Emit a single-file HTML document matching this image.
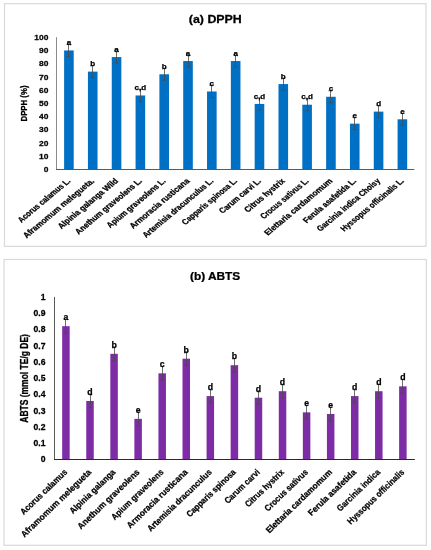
<!DOCTYPE html>
<html><head><meta charset="utf-8"><title>DPPH and ABTS</title>
<style>
html,body{margin:0;padding:0;background:#fff;}
body{width:431px;height:550px;overflow:hidden;}
svg{display:block;}
.b{font-family:"Liberation Sans",sans-serif;font-weight:bold;fill:#000;stroke:#000;stroke-width:0.25px;}
</style></head><body>
<svg width="431" height="550" viewBox="0 0 431 550">
<rect width="431" height="550" fill="#fff"/>
<g>
<rect x="4.5" y="3.7" width="421.5" height="242.60000000000002" fill="#fff" stroke="#d9d9d9" stroke-width="1.2"/>
<text transform="translate(215.3,22.7) scale(1.17,1)" text-anchor="middle" font-size="10.6" class="b">(a) DPPH</text>
<rect x="64.11" y="50.44" width="9.6" height="119.16" fill="#0070c4"/>
<path d="M68.50 44.44V56.44M66.40 44.44H70.60M66.40 56.44H70.60" stroke="#4a4a4a" stroke-width="0.8" fill="none"/>
<text transform="translate(68.91,45.04) scale(1.0,1)" text-anchor="middle" font-size="8.0" class="b">a</text>
<rect x="87.93" y="71.62" width="9.6" height="97.98" fill="#0070c4"/>
<path d="M92.50 65.62V77.62M90.40 65.62H94.60M90.40 77.62H94.60" stroke="#4a4a4a" stroke-width="0.8" fill="none"/>
<text transform="translate(92.73,66.22) scale(1.0,1)" text-anchor="middle" font-size="8.0" class="b">b</text>
<rect x="111.75" y="57.06" width="9.6" height="112.54" fill="#0070c4"/>
<path d="M116.50 51.06V63.06M114.40 51.06H118.60M114.40 63.06H118.60" stroke="#4a4a4a" stroke-width="0.8" fill="none"/>
<text transform="translate(116.55,51.66) scale(1.0,1)" text-anchor="middle" font-size="8.0" class="b">a</text>
<rect x="135.57" y="95.46" width="9.6" height="74.14" fill="#0070c4"/>
<path d="M140.50 89.46V101.46M138.40 89.46H142.60M138.40 101.46H142.60" stroke="#4a4a4a" stroke-width="0.8" fill="none"/>
<text transform="translate(140.37,90.06) scale(1.0,1)" text-anchor="middle" font-size="8.0" class="b">c,d</text>
<rect x="159.39" y="74.27" width="9.6" height="95.33" fill="#0070c4"/>
<path d="M164.50 68.27V80.27M162.40 68.27H166.60M162.40 80.27H166.60" stroke="#4a4a4a" stroke-width="0.8" fill="none"/>
<text transform="translate(164.19,68.87) scale(1.0,1)" text-anchor="middle" font-size="8.0" class="b">b</text>
<rect x="183.21" y="61.03" width="9.6" height="108.57" fill="#0070c4"/>
<path d="M188.50 55.03V67.03M186.40 55.03H190.60M186.40 67.03H190.60" stroke="#4a4a4a" stroke-width="0.8" fill="none"/>
<text transform="translate(188.01,55.63) scale(1.0,1)" text-anchor="middle" font-size="8.0" class="b">a</text>
<rect x="207.03" y="91.48" width="9.6" height="78.12" fill="#0070c4"/>
<path d="M211.50 85.48V97.48M209.40 85.48H213.60M209.40 97.48H213.60" stroke="#4a4a4a" stroke-width="0.8" fill="none"/>
<text transform="translate(211.83,86.08) scale(1.0,1)" text-anchor="middle" font-size="8.0" class="b">c</text>
<rect x="230.85" y="61.03" width="9.6" height="108.57" fill="#0070c4"/>
<path d="M235.50 55.03V67.03M233.40 55.03H237.60M233.40 67.03H237.60" stroke="#4a4a4a" stroke-width="0.8" fill="none"/>
<text transform="translate(235.65,55.63) scale(1.0,1)" text-anchor="middle" font-size="8.0" class="b">a</text>
<rect x="254.67" y="103.93" width="9.6" height="65.67" fill="#0070c4"/>
<path d="M259.50 97.93V109.93M257.40 97.93H261.60M257.40 109.93H261.60" stroke="#4a4a4a" stroke-width="0.8" fill="none"/>
<text transform="translate(259.47,98.53) scale(1.0,1)" text-anchor="middle" font-size="8.0" class="b">c,d</text>
<rect x="278.49" y="84.07" width="9.6" height="85.53" fill="#0070c4"/>
<path d="M283.50 78.07V90.07M281.40 78.07H285.60M281.40 90.07H285.60" stroke="#4a4a4a" stroke-width="0.8" fill="none"/>
<text transform="translate(283.29,78.67) scale(1.0,1)" text-anchor="middle" font-size="8.0" class="b">b</text>
<rect x="302.31" y="104.72" width="9.6" height="64.88" fill="#0070c4"/>
<path d="M307.50 98.72V110.72M305.40 98.72H309.60M305.40 110.72H309.60" stroke="#4a4a4a" stroke-width="0.8" fill="none"/>
<text transform="translate(307.11,99.32) scale(1.0,1)" text-anchor="middle" font-size="8.0" class="b">c,d</text>
<rect x="326.13" y="96.78" width="9.6" height="72.82" fill="#0070c4"/>
<path d="M330.50 90.78V102.78M328.40 90.78H332.60M328.40 102.78H332.60" stroke="#4a4a4a" stroke-width="0.8" fill="none"/>
<text transform="translate(330.93,91.38) scale(1.0,1)" text-anchor="middle" font-size="8.0" class="b">c</text>
<rect x="349.95" y="123.66" width="9.6" height="45.94" fill="#0070c4"/>
<path d="M354.50 117.66V129.66M352.40 117.66H356.60M352.40 129.66H356.60" stroke="#4a4a4a" stroke-width="0.8" fill="none"/>
<text transform="translate(354.75,118.26) scale(1.0,1)" text-anchor="middle" font-size="8.0" class="b">e</text>
<rect x="373.77" y="111.61" width="9.6" height="57.99" fill="#0070c4"/>
<path d="M378.50 105.61V117.61M376.40 105.61H380.60M376.40 117.61H380.60" stroke="#4a4a4a" stroke-width="0.8" fill="none"/>
<text transform="translate(378.57,106.21) scale(1.0,1)" text-anchor="middle" font-size="8.0" class="b">d</text>
<rect x="397.59" y="119.29" width="9.6" height="50.31" fill="#0070c4"/>
<path d="M402.50 113.29V125.29M400.40 113.29H404.60M400.40 125.29H404.60" stroke="#4a4a4a" stroke-width="0.8" fill="none"/>
<text transform="translate(402.39,113.89) scale(1.0,1)" text-anchor="middle" font-size="8.0" class="b">e</text>
<path d="M56.5 37.2V169.6" stroke="#8a8a8a" stroke-width="1" fill="none"/>
<path d="M56.0 169.5H414.3" stroke="#5a5a5a" stroke-width="1" fill="none"/>
<text transform="translate(48.4,172.20) scale(1.07,1)" text-anchor="end" font-size="7.9" class="b">0</text>
<text transform="translate(48.4,158.96) scale(1.07,1)" text-anchor="end" font-size="7.9" class="b">10</text>
<text transform="translate(48.4,145.72) scale(1.07,1)" text-anchor="end" font-size="7.9" class="b">20</text>
<text transform="translate(48.4,132.48) scale(1.07,1)" text-anchor="end" font-size="7.9" class="b">30</text>
<text transform="translate(48.4,119.24) scale(1.07,1)" text-anchor="end" font-size="7.9" class="b">40</text>
<text transform="translate(48.4,106.00) scale(1.07,1)" text-anchor="end" font-size="7.9" class="b">50</text>
<text transform="translate(48.4,92.76) scale(1.07,1)" text-anchor="end" font-size="7.9" class="b">60</text>
<text transform="translate(48.4,79.52) scale(1.07,1)" text-anchor="end" font-size="7.9" class="b">70</text>
<text transform="translate(48.4,66.28) scale(1.07,1)" text-anchor="end" font-size="7.9" class="b">80</text>
<text transform="translate(48.4,53.04) scale(1.07,1)" text-anchor="end" font-size="7.9" class="b">90</text>
<text transform="translate(48.4,39.80) scale(1.07,1)" text-anchor="end" font-size="7.9" class="b">100</text>
<text transform="translate(27.3,103.5) scale(1.2,1) rotate(-90) scale(1.0,1)" text-anchor="middle" font-size="7.8" class="b">DPPH (%)</text>
<text transform="translate(71.11,181.50) scale(1.2,1) rotate(-45) scale(0.8450,1)" text-anchor="end" font-size="7.8" class="b">Acorus calamus L.</text>
<text transform="translate(94.93,181.50) scale(1.2,1) rotate(-45) scale(0.9060,1)" text-anchor="end" font-size="7.8" class="b">Aframomum melegueta.</text>
<text transform="translate(118.75,181.50) scale(1.2,1) rotate(-45) scale(0.8883,1)" text-anchor="end" font-size="7.8" class="b">Alpinia galanga Wild</text>
<text transform="translate(142.57,181.50) scale(1.2,1) rotate(-45) scale(0.8737,1)" text-anchor="end" font-size="7.8" class="b">Anethum graveolens L.</text>
<text transform="translate(166.39,181.50) scale(1.2,1) rotate(-45) scale(0.8634,1)" text-anchor="end" font-size="7.8" class="b">Apium graveolens L.</text>
<text transform="translate(190.21,181.50) scale(1.2,1) rotate(-45) scale(0.8919,1)" text-anchor="end" font-size="7.8" class="b">Armoracia rusticana</text>
<text transform="translate(214.03,181.50) scale(1.2,1) rotate(-45) scale(0.8602,1)" text-anchor="end" font-size="7.8" class="b">Artemisia dracunculus L.</text>
<text transform="translate(237.85,181.50) scale(1.2,1) rotate(-45) scale(0.8338,1)" text-anchor="end" font-size="7.8" class="b">Capparis spinosa L.</text>
<text transform="translate(261.67,181.50) scale(1.2,1) rotate(-45) scale(0.8450,1)" text-anchor="end" font-size="7.8" class="b">Carum carvi L.</text>
<text transform="translate(285.49,181.50) scale(1.2,1) rotate(-45) scale(0.8778,1)" text-anchor="end" font-size="7.8" class="b">Citrus hystrix</text>
<text transform="translate(309.31,181.50) scale(1.2,1) rotate(-45) scale(0.8233,1)" text-anchor="end" font-size="7.8" class="b">Crocus sativus L.</text>
<text transform="translate(333.13,181.50) scale(1.2,1) rotate(-45) scale(0.9137,1)" text-anchor="end" font-size="7.8" class="b">Elettaria cardamomum</text>
<text transform="translate(356.95,181.50) scale(1.2,1) rotate(-45) scale(0.8656,1)" text-anchor="end" font-size="7.8" class="b">Ferula asafetida L.</text>
<text transform="translate(380.77,181.50) scale(1.2,1) rotate(-45) scale(0.8450,1)" text-anchor="end" font-size="7.8" class="b">Garcinia indica Choisy</text>
<text transform="translate(404.59,181.50) scale(1.2,1) rotate(-45) scale(0.8381,1)" text-anchor="end" font-size="7.8" class="b">Hyssopus officinalis L.</text>
</g>
<g>
<rect x="4.0" y="259.5" width="422.3" height="285.79999999999995" fill="#fff" stroke="#d9d9d9" stroke-width="1.2"/>
<text transform="translate(215.1,280.1) scale(1.11,1)" text-anchor="middle" font-size="10.7" class="b">(b) ABTS</text>
<rect x="62.18" y="326.17" width="7.5" height="133.33" fill="#7e2ba6"/>
<path d="M65.50 319.37V332.97M63.60 319.37H67.40M63.60 332.97H67.40" stroke="#4a4a4a" stroke-width="0.8" fill="none"/>
<text transform="translate(65.93,320.17) scale(1.0,1)" text-anchor="middle" font-size="8.7" class="b">a</text>
<rect x="86.25" y="400.96" width="7.5" height="58.54" fill="#7e2ba6"/>
<path d="M90.50 394.16V407.76M88.60 394.16H92.40M88.60 407.76H92.40" stroke="#4a4a4a" stroke-width="0.8" fill="none"/>
<text transform="translate(90.00,394.96) scale(1.0,1)" text-anchor="middle" font-size="8.7" class="b">d</text>
<rect x="110.32" y="353.81" width="7.5" height="105.69" fill="#7e2ba6"/>
<path d="M114.50 347.01V360.61M112.60 347.01H116.40M112.60 360.61H116.40" stroke="#4a4a4a" stroke-width="0.8" fill="none"/>
<text transform="translate(114.07,347.81) scale(1.0,1)" text-anchor="middle" font-size="8.7" class="b">b</text>
<rect x="134.38" y="418.85" width="7.5" height="40.65" fill="#7e2ba6"/>
<path d="M138.50 412.05V425.65M136.60 412.05H140.40M136.60 425.65H140.40" stroke="#4a4a4a" stroke-width="0.8" fill="none"/>
<text transform="translate(138.13,412.85) scale(1.0,1)" text-anchor="middle" font-size="8.7" class="b">e</text>
<rect x="158.45" y="373.32" width="7.5" height="86.18" fill="#7e2ba6"/>
<path d="M162.50 366.52V380.12M160.60 366.52H164.40M160.60 380.12H164.40" stroke="#4a4a4a" stroke-width="0.8" fill="none"/>
<text transform="translate(162.20,367.32) scale(1.0,1)" text-anchor="middle" font-size="8.7" class="b">c</text>
<rect x="182.52" y="358.69" width="7.5" height="100.81" fill="#7e2ba6"/>
<path d="M186.50 351.89V365.49M184.60 351.89H188.40M184.60 365.49H188.40" stroke="#4a4a4a" stroke-width="0.8" fill="none"/>
<text transform="translate(186.27,352.69) scale(1.0,1)" text-anchor="middle" font-size="8.7" class="b">b</text>
<rect x="206.58" y="396.09" width="7.5" height="63.41" fill="#7e2ba6"/>
<path d="M210.50 389.29V402.89M208.60 389.29H212.40M208.60 402.89H212.40" stroke="#4a4a4a" stroke-width="0.8" fill="none"/>
<text transform="translate(210.33,390.09) scale(1.0,1)" text-anchor="middle" font-size="8.7" class="b">d</text>
<rect x="230.65" y="365.19" width="7.5" height="94.31" fill="#7e2ba6"/>
<path d="M234.50 358.39V371.99M232.60 358.39H236.40M232.60 371.99H236.40" stroke="#4a4a4a" stroke-width="0.8" fill="none"/>
<text transform="translate(234.40,359.19) scale(1.0,1)" text-anchor="middle" font-size="8.7" class="b">b</text>
<rect x="254.72" y="397.71" width="7.5" height="61.79" fill="#7e2ba6"/>
<path d="M258.50 390.91V404.51M256.60 390.91H260.40M256.60 404.51H260.40" stroke="#4a4a4a" stroke-width="0.8" fill="none"/>
<text transform="translate(258.47,391.71) scale(1.0,1)" text-anchor="middle" font-size="8.7" class="b">d</text>
<rect x="278.78" y="391.21" width="7.5" height="68.29" fill="#7e2ba6"/>
<path d="M282.50 384.41V398.01M280.60 384.41H284.40M280.60 398.01H284.40" stroke="#4a4a4a" stroke-width="0.8" fill="none"/>
<text transform="translate(282.53,385.21) scale(1.0,1)" text-anchor="middle" font-size="8.7" class="b">d</text>
<rect x="302.85" y="412.35" width="7.5" height="47.15" fill="#7e2ba6"/>
<path d="M306.50 405.55V419.15M304.60 405.55H308.40M304.60 419.15H308.40" stroke="#4a4a4a" stroke-width="0.8" fill="none"/>
<text transform="translate(306.60,406.35) scale(1.0,1)" text-anchor="middle" font-size="8.7" class="b">e</text>
<rect x="326.92" y="413.97" width="7.5" height="45.53" fill="#7e2ba6"/>
<path d="M330.50 407.17V420.77M328.60 407.17H332.40M328.60 420.77H332.40" stroke="#4a4a4a" stroke-width="0.8" fill="none"/>
<text transform="translate(330.67,407.97) scale(1.0,1)" text-anchor="middle" font-size="8.7" class="b">e</text>
<rect x="350.98" y="396.09" width="7.5" height="63.41" fill="#7e2ba6"/>
<path d="M354.50 389.29V402.89M352.60 389.29H356.40M352.60 402.89H356.40" stroke="#4a4a4a" stroke-width="0.8" fill="none"/>
<text transform="translate(354.73,390.09) scale(1.0,1)" text-anchor="middle" font-size="8.7" class="b">d</text>
<rect x="375.05" y="391.21" width="7.5" height="68.29" fill="#7e2ba6"/>
<path d="M378.50 384.41V398.01M376.60 384.41H380.40M376.60 398.01H380.40" stroke="#4a4a4a" stroke-width="0.8" fill="none"/>
<text transform="translate(378.80,385.21) scale(1.0,1)" text-anchor="middle" font-size="8.7" class="b">d</text>
<rect x="399.12" y="386.33" width="7.5" height="73.17" fill="#7e2ba6"/>
<path d="M402.50 379.53V393.13M400.60 379.53H404.40M400.60 393.13H404.40" stroke="#4a4a4a" stroke-width="0.8" fill="none"/>
<text transform="translate(402.87,380.33) scale(1.0,1)" text-anchor="middle" font-size="8.7" class="b">d</text>
<path d="M54.5 296.9V459.5" stroke="#5a5a5a" stroke-width="1" fill="none"/>
<path d="M54.0 459.5H414.9" stroke="#2a2a2a" stroke-width="1" fill="none"/>
<text transform="translate(45.5,462.40) scale(1.04,1)" text-anchor="end" font-size="8.3" class="b">0</text>
<text transform="translate(45.5,446.14) scale(1.04,1)" text-anchor="end" font-size="8.3" class="b">0.1</text>
<text transform="translate(45.5,429.88) scale(1.04,1)" text-anchor="end" font-size="8.3" class="b">0.2</text>
<text transform="translate(45.5,413.62) scale(1.04,1)" text-anchor="end" font-size="8.3" class="b">0.3</text>
<text transform="translate(45.5,397.36) scale(1.04,1)" text-anchor="end" font-size="8.3" class="b">0.4</text>
<text transform="translate(45.5,381.10) scale(1.04,1)" text-anchor="end" font-size="8.3" class="b">0.5</text>
<text transform="translate(45.5,364.84) scale(1.04,1)" text-anchor="end" font-size="8.3" class="b">0.6</text>
<text transform="translate(45.5,348.58) scale(1.04,1)" text-anchor="end" font-size="8.3" class="b">0.7</text>
<text transform="translate(45.5,332.32) scale(1.04,1)" text-anchor="end" font-size="8.3" class="b">0.8</text>
<text transform="translate(45.5,316.06) scale(1.04,1)" text-anchor="end" font-size="8.3" class="b">0.9</text>
<text transform="translate(45.5,299.80) scale(1.04,1)" text-anchor="end" font-size="8.3" class="b">1</text>
<text transform="translate(27.9,378.4) scale(1.2,1) rotate(-90) scale(1.0,1)" text-anchor="middle" font-size="8.5" class="b">ABTS (mmol TE/g DE)</text>
<text transform="translate(67.93,472.80) scale(1.04,1) rotate(-45) scale(0.9050,1)" text-anchor="end" font-size="8.6" class="b">Acorus calamus</text>
<text transform="translate(92.00,472.80) scale(1.04,1) rotate(-45) scale(0.9606,1)" text-anchor="end" font-size="8.6" class="b">Aframomum melegueta</text>
<text transform="translate(116.07,472.80) scale(1.04,1) rotate(-45) scale(0.9243,1)" text-anchor="end" font-size="8.6" class="b">Alpinia galanga</text>
<text transform="translate(140.13,472.80) scale(1.04,1) rotate(-45) scale(0.9466,1)" text-anchor="end" font-size="8.6" class="b">Anethum graveolens</text>
<text transform="translate(164.20,472.80) scale(1.04,1) rotate(-45) scale(0.9050,1)" text-anchor="end" font-size="8.6" class="b">Apium graveolens</text>
<text transform="translate(188.27,472.80) scale(1.04,1) rotate(-45) scale(0.9508,1)" text-anchor="end" font-size="8.6" class="b">Armoracia rusticana</text>
<text transform="translate(212.33,472.80) scale(1.04,1) rotate(-45) scale(0.9050,1)" text-anchor="end" font-size="8.6" class="b">Artemisia dracunculus</text>
<text transform="translate(236.40,472.80) scale(1.04,1) rotate(-45) scale(0.8822,1)" text-anchor="end" font-size="8.6" class="b">Capparis spinosa</text>
<text transform="translate(260.47,472.80) scale(1.04,1) rotate(-45) scale(0.8913,1)" text-anchor="end" font-size="8.6" class="b">Carum carvi</text>
<text transform="translate(284.53,472.80) scale(1.04,1) rotate(-45) scale(0.8878,1)" text-anchor="end" font-size="8.6" class="b">Citrus hystrix</text>
<text transform="translate(308.60,472.80) scale(1.04,1) rotate(-45) scale(0.8940,1)" text-anchor="end" font-size="8.6" class="b">Crocus sativus</text>
<text transform="translate(332.67,472.80) scale(1.04,1) rotate(-45) scale(0.9284,1)" text-anchor="end" font-size="8.6" class="b">Elettaria cardamomum</text>
<text transform="translate(356.73,472.80) scale(1.04,1) rotate(-45) scale(0.9382,1)" text-anchor="end" font-size="8.6" class="b">Ferula asafetida</text>
<text transform="translate(380.80,472.80) scale(1.04,1) rotate(-45) scale(0.8940,1)" text-anchor="end" font-size="8.6" class="b">Garcinia indica</text>
<text transform="translate(404.87,472.80) scale(1.04,1) rotate(-45) scale(0.8789,1)" text-anchor="end" font-size="8.6" class="b">Hyssopus officinalis</text>
</g>
</svg>
</body></html>
